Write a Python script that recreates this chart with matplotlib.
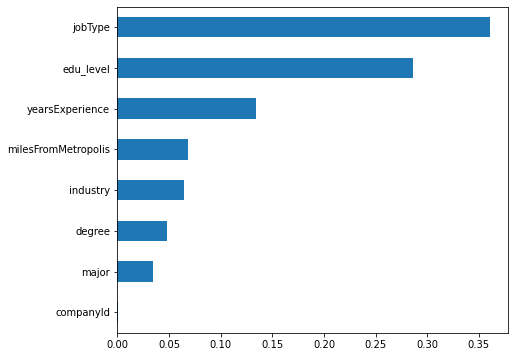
import matplotlib
matplotlib.use("Agg")
import matplotlib.pyplot as plt
import pandas as pd

features = ["companyId", "major", "degree", "industry", "milesFromMetropolis",
            "yearsExperience", "edu_level", "jobType"]
importance = [0.0003, 0.0346, 0.0482, 0.0647, 0.0686, 0.1345, 0.2864, 0.3604]

s = pd.Series(importance, index=features)
fig = plt.figure(figsize=(514/72, 357/72), dpi=72)
ax = fig.add_axes([117.3/514, 1-332.7/357, (508.3-117.3)/514, (332.7-6.7)/357])
s.plot.barh(ax=ax, color="#1f77b4")
ax.set_xticks([0, 0.05, 0.1, 0.15, 0.2, 0.25, 0.3, 0.35])
ax.set_xticklabels(["0.00", "0.05", "0.10", "0.15", "0.20", "0.25", "0.30", "0.35"])
fig.savefig("out.png", dpi=72)
